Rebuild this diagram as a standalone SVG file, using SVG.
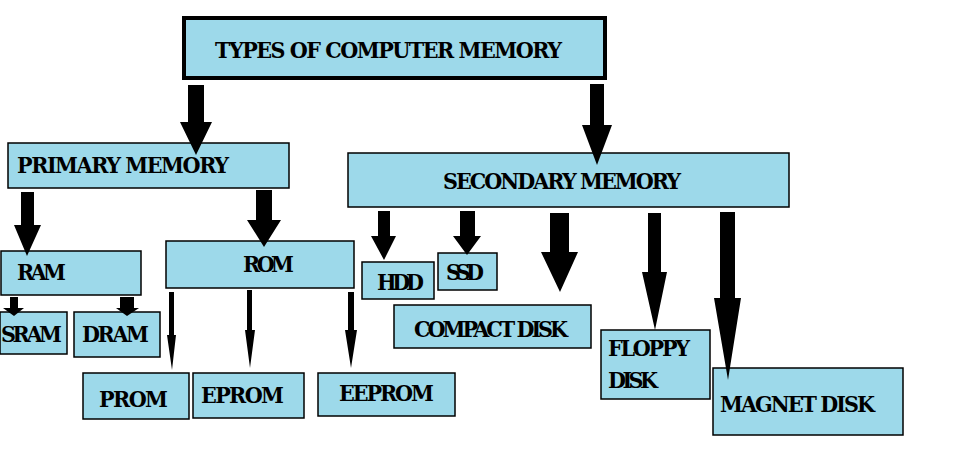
<svg xmlns="http://www.w3.org/2000/svg" width="979" height="460" viewBox="0 0 979 460">
<style>
.b{fill:#9dd9ea;stroke:#000;stroke-width:1.5}
.t{font-family:"DejaVu Serif Condensed","Liberation Serif",serif;font-weight:bold;font-size:23px;fill:#000}
.a{fill:#000}
</style>
<rect width="979" height="460" fill="#fff"/>
<g id="title"><rect x="184" y="18" width="421" height="60" fill="#9dd9ea" stroke="#000" stroke-width="4"/><text class="t" x="215" y="58" textLength="347">TYPES OF COMPUTER MEMORY</text></g>
<g id="primary"><rect class="b" x="8" y="143" width="281" height="45"/><text class="t" x="17" y="173" textLength="212">PRIMARY MEMORY</text></g>
<g id="secondary"><rect class="b" x="348" y="153" width="441" height="54"/><text class="t" x="443" y="189" textLength="238">SECONDARY MEMORY</text></g>
<g id="ram"><rect class="b" x="1" y="251" width="140" height="44"/><text class="t" x="17" y="280" textLength="49">RAM</text></g>
<g id="rom"><rect class="b" x="166" y="241" width="188" height="47"/><text class="t" x="243" y="272" textLength="51">ROM</text></g>
<g id="sram"><rect class="b" x="0" y="312" width="67" height="42"/><text class="t" x="1" y="342" textLength="61">SRAM</text></g>
<g id="dram"><rect class="b" x="74" y="312" width="86" height="45"/><text class="t" x="82" y="342" textLength="67">DRAM</text></g>
<g id="prom"><rect class="b" x="83" y="373" width="106" height="46"/><text class="t" x="99" y="407" textLength="69">PROM</text></g>
<g id="eprom"><rect class="b" x="193" y="373" width="111" height="45"/><text class="t" x="201" y="403" textLength="83">EPROM</text></g>
<g id="eeprom"><rect class="b" x="318" y="373" width="137" height="43"/><text class="t" x="339" y="401" textLength="95">EEPROM</text></g>
<g id="hdd"><rect class="b" x="362" y="262" width="72" height="37"/><text class="t" x="377" y="290" textLength="47">HDD</text></g>
<g id="ssd"><rect class="b" x="438" y="253" width="59" height="37"/><text class="t" x="446" y="280" textLength="38">SSD</text></g>
<g id="cd"><rect class="b" x="394" y="305" width="197" height="43"/><text class="t" x="414" y="337" textLength="154">COMPACT DISK</text></g>
<g id="floppy"><rect class="b" x="601" y="330" width="109" height="69"/><text class="t" x="608" y="356" textLength="82">FLOPPY</text><text class="t" x="608" y="388" textLength="50">DISK</text></g>
<g id="magnet"><rect class="b" x="713" y="368" width="190" height="67"/><text class="t" x="720" y="412" textLength="155">MAGNET DISK</text></g>
<g id="connectors" class="a">
<polygon points="188,85 204,85 204,122 212,122 196,155 180,122 188,122"/>
<polygon points="590,84 604,84 604,125 612,125 597,165 582,125 590,125"/>
<polygon points="21,192 34,192 34,225 41,225 27,256 14,225 21,225"/>
<polygon points="256,190 272,190 272,220 281,220 264,247 247,220 256,220"/>
<polygon points="10,297 18,297 18,308 24,308 14,316 3,308 10,308"/>
<polygon points="120,297 134,297 134,308 139,308 127,316 116,308 120,308"/>
<polygon points="169,292 174,292 174,335 176,335 172,370 167,335 169,335"/>
<polygon points="247,290 252,290 252,330 255,330 250,368 245,330 247,330"/>
<polygon points="348,292 354,292 354,330 357,330 351,368 345,330 348,330"/>
<polygon points="378,211 390,211 390,236 396,236 384,260 371,236 378,236"/>
<polygon points="460,211 475,211 475,236 481,236 467,255 453,236 460,236"/>
<polygon points="550,213 569,213 569,252 578,252 560,292 541,252 550,252"/>
<polygon points="648,213 661,213 661,272 667,272 655,330 642,272 648,272"/>
<polygon points="720,212 735,212 735,298 741,298 728,380 714,298 720,298"/>
</g>
</svg>
